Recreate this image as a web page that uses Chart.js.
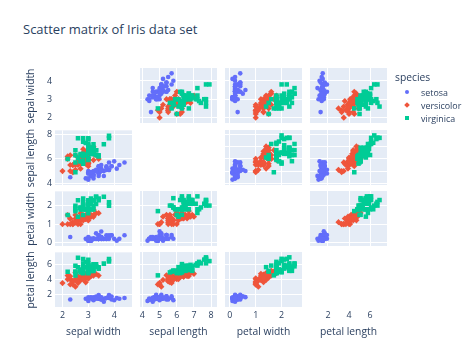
<!DOCTYPE html>
<html>
<head>
<meta charset="utf-8">
<script src="https://cdn.jsdelivr.net/npm/chart.js"></script>
<style>
    body { margin: 0; background: #fff; font-family: "Open Sans", sans-serif; color: #2a3f5f; }
    #page { position: relative; width: 474px; height: 363px; overflow: hidden; }
    #page canvas { position: absolute; }
    .title { position: absolute; left: 23px; top: 23px; font-size: 13px; line-height: 13px; white-space: nowrap; }
    .xtitle { position: absolute; top: 326px; width: 77px; text-align: center; font-size: 10.3px; line-height: 10.3px; white-space: nowrap; }
    .ytitle { position: absolute; width: 80px; height: 12px; line-height: 12px; text-align: center; font-size: 10.3px; white-space: nowrap; transform: rotate(-90deg); }
    .legtitle { position: absolute; left: 395px; top: 72px; font-size: 10.3px; line-height: 10.3px; }
    .legitem { position: absolute; left: 402px; height: 12px; display: flex; align-items: center; font-size: 8.9px; }
    .legitem .mk { width: 10px; height: 12px; position: relative; margin-right: 9px; }
    .legitem .mk i { position: absolute; left: 3px; top: 4px; width: 4px; height: 4px; }
</style>
</head>
<body>
<div id="page">
    <div class="title">Scatter matrix of Iris data set</div>
</div>
<script>
// iris data, one array per species and measurement
const setosaSepalLength = [5.1,4.9,4.7,4.6,5.0,5.4,4.6,5.0,4.4,4.9,5.4,4.8,4.8,4.3,5.8,5.7,5.4,5.1,5.7,5.1,5.4,5.1,4.6,5.1,4.8,5.0,5.0,5.2,5.2,4.7,4.8,5.4,5.2,5.5,4.9,5.0,5.5,4.9,4.4,5.1,5.0,4.5,4.4,5.0,5.1,4.8,5.1,4.6,5.3,5.0];
const setosaSepalWidth = [3.5,3.0,3.2,3.1,3.6,3.9,3.4,3.4,2.9,3.1,3.7,3.4,3.0,3.0,4.0,4.4,3.9,3.5,3.8,3.8,3.4,3.7,3.6,3.3,3.4,3.0,3.4,3.5,3.4,3.2,3.1,3.4,4.1,4.2,3.1,3.2,3.5,3.1,3.0,3.4,3.5,2.3,3.2,3.5,3.8,3.0,3.8,3.2,3.7,3.3];
const setosaPetalLength = [1.4,1.4,1.3,1.5,1.4,1.7,1.4,1.5,1.4,1.5,1.5,1.6,1.4,1.1,1.2,1.5,1.3,1.4,1.7,1.5,1.7,1.5,1.0,1.7,1.9,1.6,1.6,1.5,1.4,1.6,1.6,1.5,1.5,1.4,1.5,1.2,1.3,1.5,1.3,1.5,1.3,1.3,1.3,1.6,1.9,1.4,1.6,1.4,1.5,1.4];
const setosaPetalWidth = [0.2,0.2,0.2,0.2,0.2,0.4,0.3,0.2,0.2,0.1,0.2,0.2,0.1,0.1,0.2,0.4,0.4,0.3,0.3,0.3,0.2,0.4,0.2,0.5,0.2,0.2,0.4,0.2,0.2,0.2,0.2,0.4,0.1,0.2,0.1,0.2,0.2,0.1,0.2,0.2,0.3,0.3,0.2,0.6,0.4,0.3,0.2,0.2,0.2,0.2];

const versicolorSepalLength = [7.0,6.4,6.9,5.5,6.5,5.7,6.3,4.9,6.6,5.2,5.0,5.9,6.0,6.1,5.6,6.7,5.6,5.8,6.2,5.6,5.9,6.1,6.3,6.1,6.4,6.6,6.8,6.7,6.0,5.7,5.5,5.5,5.8,6.0,5.4,6.0,6.7,6.3,5.6,5.5,5.5,6.1,5.8,5.0,5.6,5.7,5.7,6.2,5.1,5.7];
const versicolorSepalWidth = [3.2,3.2,3.1,2.3,2.8,2.8,3.3,2.4,2.9,2.7,2.0,3.0,2.2,2.9,2.9,3.1,3.0,2.7,2.2,2.5,3.2,2.8,2.5,2.8,2.9,3.0,2.8,3.0,2.9,2.6,2.4,2.4,2.7,2.7,3.0,3.4,3.1,2.3,3.0,2.5,2.6,3.0,2.6,2.3,2.7,3.0,2.9,2.9,2.5,2.8];
const versicolorPetalLength = [4.7,4.5,4.9,4.0,4.6,4.5,4.7,3.3,4.6,3.9,3.5,4.2,4.0,4.7,3.6,4.4,4.5,4.1,4.5,3.9,4.8,4.0,4.9,4.7,4.3,4.4,4.8,5.0,4.5,3.5,3.8,3.7,3.9,5.1,4.5,4.5,4.7,4.4,4.1,4.0,4.4,4.6,4.0,3.3,4.2,4.2,4.2,4.3,3.0,4.1];
const versicolorPetalWidth = [1.4,1.5,1.5,1.3,1.5,1.3,1.6,1.0,1.3,1.4,1.0,1.5,1.0,1.4,1.3,1.4,1.5,1.0,1.5,1.1,1.8,1.3,1.5,1.2,1.3,1.4,1.4,1.7,1.5,1.0,1.1,1.0,1.2,1.6,1.5,1.6,1.5,1.3,1.3,1.3,1.2,1.4,1.2,1.0,1.3,1.2,1.3,1.3,1.1,1.3];

const virginicaSepalLength = [6.3,5.8,7.1,6.3,6.5,7.6,4.9,7.3,6.7,7.2,6.5,6.4,6.8,5.7,5.8,6.4,6.5,7.7,7.7,6.0,6.9,5.6,7.7,6.3,6.7,7.2,6.2,6.1,6.4,7.2,7.4,7.9,6.4,6.3,6.1,7.7,6.3,6.4,6.0,6.9,6.7,6.9,5.8,6.8,6.7,6.7,6.3,6.5,6.2,5.9];
const virginicaSepalWidth = [3.3,2.7,3.0,2.9,3.0,3.0,2.5,2.9,2.5,3.6,3.2,2.7,3.0,2.5,2.8,3.2,3.0,3.8,2.6,2.2,3.2,2.8,2.8,2.7,3.3,3.2,2.8,3.0,2.8,3.0,2.8,3.8,2.8,2.8,2.6,3.0,3.4,3.1,3.0,3.1,3.1,3.1,2.7,3.2,3.3,3.0,2.5,3.0,3.4,3.0];
const virginicaPetalLength = [6.0,5.1,5.9,5.6,5.8,6.6,4.5,6.3,5.8,6.1,5.1,5.3,5.5,5.0,5.1,5.3,5.5,6.7,6.9,5.0,5.7,4.9,6.7,4.9,5.7,6.0,4.8,4.9,5.6,5.8,6.1,6.4,5.6,5.1,5.6,6.1,5.6,5.5,4.8,5.4,5.6,5.1,5.1,5.9,5.7,5.2,5.0,5.2,5.4,5.1];
const virginicaPetalWidth = [2.5,1.9,2.1,1.8,2.2,2.1,1.7,1.8,1.8,2.5,2.0,1.9,2.1,2.0,2.4,2.3,1.8,2.2,2.3,1.5,2.3,2.0,2.0,1.8,2.1,1.8,1.8,1.8,2.1,1.6,1.9,2.0,2.2,1.5,1.4,2.3,2.4,1.8,1.8,2.1,2.4,2.3,1.9,2.3,2.5,2.3,1.9,2.0,2.3,1.8];

const speciesNames = ['setosa', 'versicolor', 'virginica'];
const dimLabels = ['sepal width', 'sepal length', 'petal width', 'petal length'];
const sepalWidth = [setosaSepalWidth, versicolorSepalWidth, virginicaSepalWidth];
const sepalLength = [setosaSepalLength, versicolorSepalLength, virginicaSepalLength];
const petalWidth = [setosaPetalWidth, versicolorPetalWidth, virginicaPetalWidth];
const petalLength = [setosaPetalLength, versicolorPetalLength, virginicaPetalLength];
const dimValues = [sepalWidth, sepalLength, petalWidth, petalLength];

// axis ranges, same for rows and columns
const axisMin = [1.71, 3.86, -0.19, 0.29];
const axisMax = [4.69, 8.34, 2.79, 7.61];
const tickStep = [1, 1, 1, 2];

// look
const colors = ['#636efa', '#EF553B', '#00cc96'];
const pointStyles = ['circle', 'rectRot', 'rect'];
const pointRadii = [2.3, 3.1, 3.2];
const colX = [55, 140, 225, 310];
const rowY = [68, 130, 191, 252];
const PW = 77, PH = 55;
const LEFT = 30, TOP = 8, RIGHT = 8, BOTTOM = 22;

const page = document.getElementById('page');
const tickFont = { family: 'Open Sans', size: 8.9 };

const panelBg = {
    id: 'panelBg',
    beforeDraw(chart, args, opts) {
        if (!opts.on) return;
        const a = chart.chartArea, ctx = chart.ctx;
        ctx.save();
        ctx.fillStyle = '#E5ECF6';
        ctx.fillRect(a.left, a.top, a.right - a.left, a.bottom - a.top);
        ctx.restore();
    }
};

for (let r = 0; r < 4; r++) {
    for (let c = 0; c < 4; c++) {
        const diag = r === c;
        const cv = document.createElement('canvas');
        cv.width = PW + LEFT + RIGHT;
        cv.height = PH + TOP + BOTTOM;
        cv.style.left = (colX[c] - LEFT) + 'px';
        cv.style.top = (rowY[r] - TOP) + 'px';
        page.appendChild(cv);

        const datasets = diag ? [] : speciesNames.map((name, k) => ({
            label: name,
            data: dimValues[c][k].map((x, i) => ({ x: x, y: dimValues[r][k][i] })),
            pointStyle: pointStyles[k],
            pointRadius: pointRadii[k],
            pointBackgroundColor: colors[k],
            pointBorderWidth: 0,
            order: 3 - k
        }));

        new Chart(cv, {
            type: 'scatter',
            data: { datasets: datasets },
            options: {
                responsive: false,
                animation: false,
                events: [],
                layout: { padding: { top: TOP, right: RIGHT, left: 0, bottom: 0 } },
                plugins: {
                    legend: { display: false },
                    tooltip: { enabled: false },
                    panelBg: { on: !diag }
                },
                scales: {
                    x: {
                        type: 'linear',
                        min: axisMin[c], max: axisMax[c],
                        afterFit: s => { s.height = BOTTOM; },
                        border: { display: false },
                        grid: { display: !diag, color: '#fff', lineWidth: 1, drawTicks: false },
                        ticks: { display: r === 3, stepSize: tickStep[c], includeBounds: false, padding: 3, font: tickFont, color: '#2a3f5f', maxRotation: 0 }
                    },
                    y: {
                        type: 'linear',
                        min: axisMin[r], max: axisMax[r],
                        afterFit: s => { s.width = LEFT; },
                        border: { display: false },
                        grid: { display: !diag, color: '#fff', lineWidth: 1, drawTicks: false },
                        ticks: { display: c === 0, stepSize: tickStep[r], includeBounds: false, padding: 3, font: tickFont, color: '#2a3f5f' }
                    }
                }
            },
            plugins: [panelBg]
        });
    }
}

// axis titles
dimLabels.forEach((label, i) => {
    const xt = document.createElement('div');
    xt.className = 'xtitle';
    xt.style.left = colX[i] + 'px';
    xt.textContent = label;
    page.appendChild(xt);

    const yt = document.createElement('div');
    yt.className = 'ytitle';
    yt.style.left = (30 - 40) + 'px';
    yt.style.top = (rowY[i] + PH / 2 - 6) + 'px';
    yt.textContent = label;
    page.appendChild(yt);
});

// legend
const lt = document.createElement('div');
lt.className = 'legtitle';
lt.textContent = 'species';
page.appendChild(lt);
const legY = [86, 99, 112];
speciesNames.forEach((name, k) => {
    const item = document.createElement('div');
    item.className = 'legitem';
    item.style.top = legY[k] + 'px';
    const mk = document.createElement('span');
    mk.className = 'mk';
    const dot = document.createElement('i');
    dot.style.background = colors[k];
    if (k === 0) dot.style.borderRadius = '50%';
    if (k === 1) dot.style.transform = 'rotate(45deg)';
    mk.appendChild(dot);
    item.appendChild(mk);
    item.appendChild(document.createTextNode(name));
    page.appendChild(item);
});
</script>
</body>
</html>
